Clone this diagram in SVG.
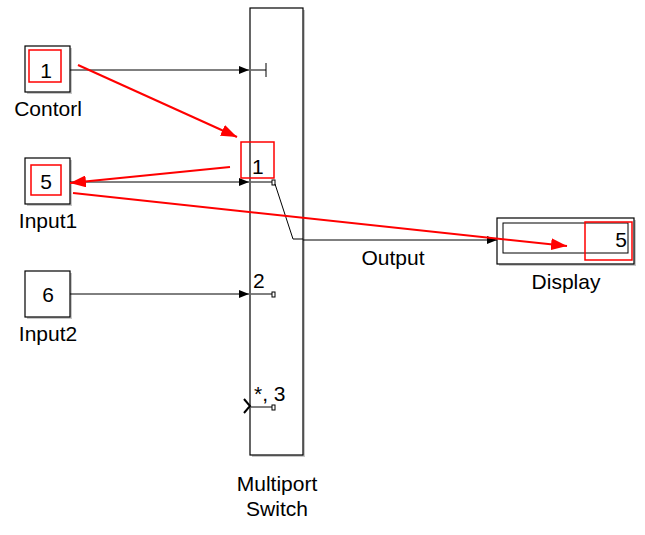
<svg xmlns="http://www.w3.org/2000/svg" width="645" height="535" viewBox="0 0 645 535">
<style>
text{font-family:"Liberation Sans",Arial,sans-serif;fill:#000;font-size:21px}
.blk{fill:#fff;stroke:#000;stroke-width:1.2}
.sh{fill:#c8c8c8}
.ln{stroke:#000;stroke-width:1;fill:none}
.rd{stroke:#f00;stroke-width:2;fill:none}
.rb{stroke:#f00;stroke-width:1.5;fill:none}
</style>
<defs>
<marker id="ah" markerWidth="10" markerHeight="8" refX="10" refY="4" orient="auto" markerUnits="userSpaceOnUse"><path d="M0,0L10,4L0,8z" fill="#000"/></marker>
<marker id="ra" markerWidth="16" markerHeight="12" refX="16" refY="6" orient="auto" markerUnits="userSpaceOnUse"><path d="M0,0L16,6L0,12z" fill="#f00"/></marker>
</defs>
<g id="switch">
<rect class="sh" x="252" y="10" width="53" height="447"/>
<rect class="blk" x="250" y="8" width="53" height="447"/>
<path class="ln" d="M251,70H266M266,63V77"/>
<path class="ln" d="M251,182H272M251,294H272M251,407H272"/>
<rect x="272" y="180" width="3" height="5" class="ln"/>
<rect x="272" y="292" width="3" height="5" class="ln"/>
<rect x="272" y="405" width="3" height="5" class="ln"/>
<text x="252" y="174">1</text>
<text x="253" y="288">2</text>
<text x="254" y="401">*, 3</text>
<path d="M244,399L250,406L244,413" stroke="#000" stroke-width="2" fill="none"/>
<text x="277" y="491" text-anchor="middle">Multiport</text>
<text x="277" y="516" text-anchor="middle">Switch</text>
</g>
<g id="control">
<rect class="sh" x="27" y="48" width="45" height="46"/>
<rect class="blk" x="25" y="46" width="45" height="46"/>
<text x="46" y="78" text-anchor="middle">1</text>
<text x="48" y="116" text-anchor="middle">Contorl</text>
</g>
<g id="input1">
<rect class="sh" x="27" y="160" width="45" height="46"/>
<rect class="blk" x="25" y="158" width="45" height="46"/>
<text x="46" y="189" text-anchor="middle">5</text>
<text x="48" y="228" text-anchor="middle">Input1</text>
</g>
<g id="input2">
<rect class="sh" x="27" y="273" width="45" height="46"/>
<rect class="blk" x="25" y="271" width="45" height="46"/>
<text x="48" y="302" text-anchor="middle">6</text>
<text x="48" y="341" text-anchor="middle">Input2</text>
</g>
<g id="display">
<rect class="sh" x="499" y="220" width="137" height="46"/>
<rect class="blk" x="497" y="218" width="137" height="46"/>
<rect class="ln" x="503" y="223" width="125" height="30"/>
<text x="627" y="247" text-anchor="end">5</text>
<text x="566" y="289" text-anchor="middle">Display</text>
</g>
<g id="connectors">
<path class="ln" d="M70,70H249" marker-end="url(#ah)"/>
<path class="ln" d="M70,182H249" marker-end="url(#ah)"/>
<path class="ln" d="M70,294H249" marker-end="url(#ah)"/>
<path class="ln" d="M275,184L293,239H303"/>
<path class="ln" d="M303,240H497" marker-end="url(#ah)"/>
<text x="393" y="265" text-anchor="middle">Output</text>
</g>
<g id="annotations">
<rect class="rb" x="29" y="50" width="32" height="32"/>
<rect class="rb" x="31" y="165" width="30" height="30"/>
<rect class="rb" x="241" y="142" width="33" height="36"/>
<rect class="rb" x="585" y="222" width="47" height="38"/>
<path class="rd" d="M78,65L237,137" marker-end="url(#ra)"/>
<path class="rd" d="M230,167L70,183" marker-end="url(#ra)"/>
<path class="rd" d="M73,193L567,246" marker-end="url(#ra)"/>
</g>
</svg>
